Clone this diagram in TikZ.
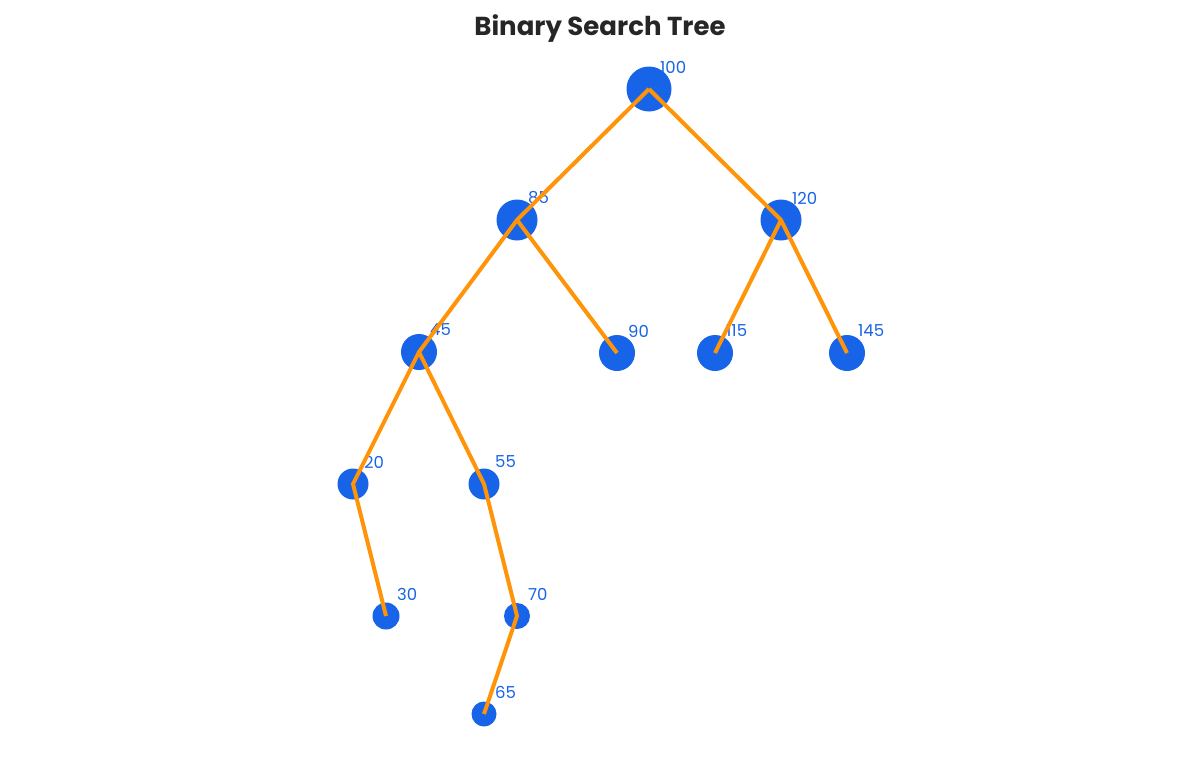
\documentclass[tikz,border=0pt]{standalone}
\usepackage{fontspec}
\setmainfont{Poppins}
\definecolor{nodeblue}{HTML}{1764E8}
\definecolor{edgeor}{HTML}{FF9408}
\begin{document}
\begin{tikzpicture}[x=1pt,y=-1pt,
  vtx/.style={circle,fill=nodeblue,inner sep=0pt},
  lbl/.style={anchor=west,text=nodeblue,font=\fontsize{16.5}{16.5}\selectfont,inner sep=0pt},
  edge/.style={draw=edgeor,line width=4pt}]
\useasboundingbox (0,0) rectangle (1200,763);
\node[font=\bfseries\fontsize{26}{26}\selectfont,text=black!85] (title) at (600,29) {Binary Search Tree};
\foreach \n/\x/\y/\r in {100/649/89/45, 85/517/220/41, 120/781/220/41, 45/419/352/36, 90/617/353/36, 115/715/353/36, 145/847/353/36, 20/353/484/31, 55/484/484/31, 30/386/616/27, 70/517/616/26, 65/484/714/25}{
  \node[vtx,minimum size=\r] (n\n) at (\x,\y) {};
  \node[lbl] (l\n) at (\x+11,\y-22) {\n};
}
\draw[edge] (n100.center) -- (n85.center) -- (n45.center) -- (n20.center) -- (n30.center);
\draw[edge] (n100.center) -- (n120.center) -- (n145.center);
\draw[edge] (n120.center) -- (n115.center);
\draw[edge] (n85.center) -- (n90.center);
\draw[edge] (n45.center) -- (n55.center) -- (n70.center) -- (n65.center);
\end{tikzpicture}
\end{document}
